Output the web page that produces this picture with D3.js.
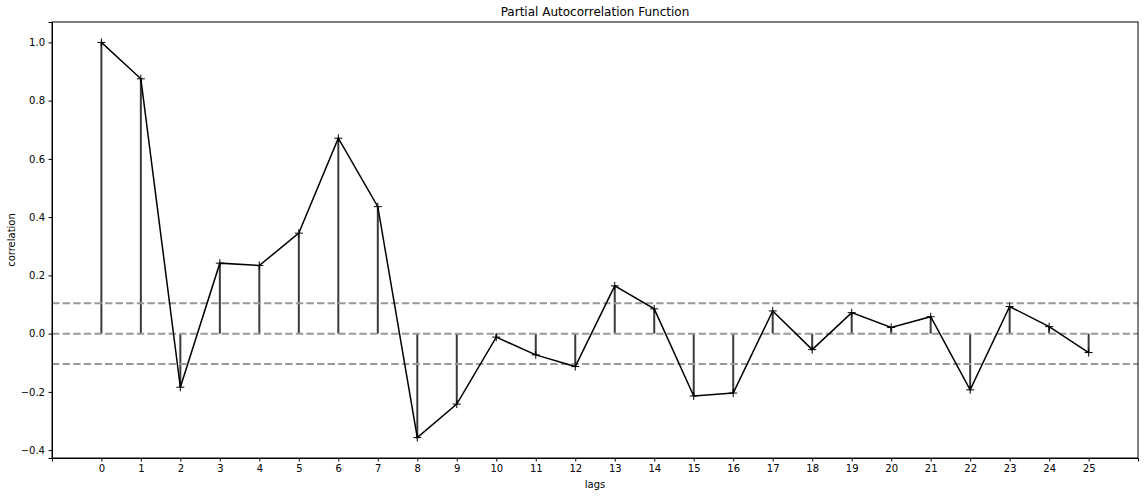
<!DOCTYPE html>
<html>
<head>
<meta charset="utf-8">
<script src="https://cdn.jsdelivr.net/npm/d3@7"></script>
<style>
  body { margin: 0; background: white; }
  svg text { font-family: "DejaVu Sans", sans-serif; fill: #000; }
  .axis path, .axis line { stroke: #000; }
  .axis text { font-size: 10px; }
</style>
</head>
<body>
<div class="board"></div>
<script>
var margin = { top: 22, right: 6, bottom: 38, left: 52 },
    width = 1144 - margin.left - margin.right,
    height = 496 - margin.top - margin.bottom

// lags and partial autocorrelation values
var lags = d3.range(0, 26)
var pacf = [1.0, 0.875, -0.184, 0.242, 0.234, 0.345, 0.671, 0.436, -0.357, -0.242,
    -0.012, -0.073, -0.113, 0.164, 0.085, -0.214, -0.204, 0.078, -0.055, 0.072,
    0.021, 0.058, -0.193, 0.093, 0.024, -0.065]
var confBand = [-0.104, 0, 0.104]
var yTicks = [-0.4, -0.2, 0.0, 0.2, 0.4, 0.6, 0.8, 1.0]

var data = lags.map((d, i) => ({ lag: d, value: pacf[i] }))

var svg = d3.select(".board")
    .append("svg")
    .attr("width", 1144)
    .attr("height", 496)

var g = svg.append("g")
    .attr("transform", `translate(${margin.left}, ${margin.top})`)

var x = d3.scaleLinear()
    .domain([-1.25, 26.25])
    .range([0, width])

var y = d3.scaleLinear()
    .domain([-0.427, 1.070])
    .range([height, 0])

// stems
g.selectAll(".stem")
    .data(data)
    .enter()
    .append("line")
    .classed("stem", true)
    .attr("stroke", "#3a3a3a")
    .attr("stroke-width", 2)
    .attr("x1", d => x(d.lag))
    .attr("x2", d => x(d.lag))
    .attr("y1", y(0))
    .attr("y2", d => y(d.value))

// dashed reference lines
g.selectAll(".band")
    .data(confBand)
    .enter()
    .append("line")
    .classed("band", true)
    .attr("stroke", "#999")
    .attr("stroke-width", 2)
    .attr("stroke-dasharray", "7.4,3.2")
    .attr("x1", 0)
    .attr("x2", width)
    .attr("y1", d => y(d))
    .attr("y2", d => y(d))

// connecting line
g.append("path")
    .datum(data)
    .attr("fill", "none")
    .attr("stroke", "black")
    .attr("stroke-width", 1.5)
    .attr("d", d3.line().x(d => x(d.lag)).y(d => y(d.value)))

// plus markers
var plus = g.selectAll(".marker")
    .data(data)
    .enter()
    .append("path")
    .classed("marker", true)
    .attr("stroke", "black")
    .attr("stroke-width", 1)
    .attr("d", d => {
        var cx = x(d.lag), cy = y(d.value), r = 4
        return `M${cx - r},${cy}H${cx + r}M${cx},${cy - r}V${cy + r}`
    })

// axes
g.append("g")
    .classed("axis", true)
    .attr("transform", `translate(0, ${height})`)
    .call(d3.axisBottom(x).tickValues(lags).tickFormat(d3.format("d")).tickSizeOuter(0).tickSize(3.5).tickPadding(3.5))

g.append("g")
    .classed("axis", true)
    .call(d3.axisLeft(y).tickValues(yTicks).tickFormat(d => d3.format(".1f")(d).replace("-", "\u2212")).tickSizeOuter(0).tickSize(3.5).tickPadding(3.5))

// frame
g.append("rect")
    .attr("x", 0)
    .attr("y", 0)
    .attr("width", width)
    .attr("height", height)
    .attr("fill", "none")
    .attr("stroke", "#000")
    .attr("stroke-width", 1)

svg.append("text")
    .attr("x", margin.left + width / 2)
    .attr("y", margin.top - 6)
    .attr("text-anchor", "middle")
    .style("font-size", "12px")
    .text("Partial Autocorrelation Function")

svg.append("text")
    .attr("x", margin.left + width / 2)
    .attr("y", 488)
    .attr("text-anchor", "middle")
    .style("font-size", "10px")
    .text("lags")

svg.append("text")
    .attr("transform", `translate(15, ${margin.top + height / 2}) rotate(-90)`)
    .attr("text-anchor", "middle")
    .style("font-size", "10px")
    .text("correlation")
</script>
</body>
</html>
